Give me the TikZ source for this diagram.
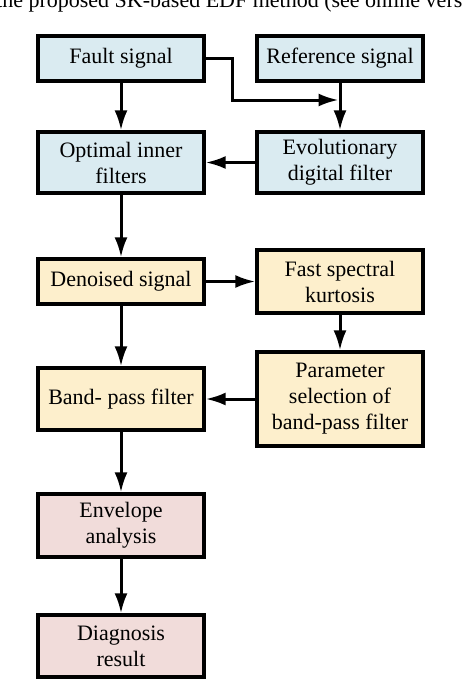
\documentclass[tikz,border=0pt]{standalone}
\usepackage{fontspec}
\setmainfont{Liberation Serif}
\newfontfamily\boxfont{Liberation Serif}
\usetikzlibrary{arrows.meta}

\definecolor{boxblue}{HTML}{DAEBF1}
\definecolor{boxyellow}{HTML}{FDEFCC}
\definecolor{boxpink}{HTML}{F1DCDA}

\begin{document}
\begin{tikzpicture}[x = 1pt, y = -1pt, > = {Latex[length = 20pt, width = 13pt]},
	block/.style = {draw, line width = 3.3pt, minimum width = 166pt, inner sep = 0pt,
		align = center, font = \boxfont\fontsize{22}{26}\selectfont},
	link/.style = {->, line width = 3pt}]

	\useasboundingbox (0, 0) rectangle (462, 680);

	\begin{scope}
		\clip (0, 0) rectangle (462, 680);
		\node [anchor = base west, inner sep = 0pt, font = \boxfont\fontsize{22}{26}\selectfont] (caption)
			at (-4, 8) {the proposed SK-based EDF method (see online version};
	\end{scope}

	% first stage
	\node [block, fill = boxblue, minimum height = 45pt] (fault) at (121, 58.5) {Fault signal};
	\node [block, fill = boxblue, minimum height = 45pt] (reference) at (340, 58.5) {Reference signal};
	\node [block, fill = boxblue, minimum height = 61pt] (optimal) at (121, 162.5) {Optimal inner\\ filters};
	\node [block, fill = boxblue, minimum height = 61pt] (evolutionary) at (340, 162.5) {Evolutionary\\ digital filter};

	% second stage
	\node [block, fill = boxyellow, minimum height = 45pt] (denoised) at (121, 281.5) {Denoised signal};
	\node [block, fill = boxyellow, minimum height = 63pt] (kurtosis) at (340, 281.5) {Fast spectral\\ kurtosis};
	\node [block, fill = boxyellow, minimum height = 62pt] (bandpass) at (121, 399) {Band- pass filter};
	\node [block, fill = boxyellow, minimum height = 94pt] (parameter) at (340, 399) {Parameter\\ selection of\\ band-pass filter};

	% third stage
	\node [block, fill = boxpink, minimum height = 63pt] (envelope) at (121, 525.5) {Envelope\\ analysis};
	\node [block, fill = boxpink, minimum height = 62pt] (diagnosis) at (121, 646) {Diagnosis\\ result};

	\coordinate (join) at (338.5, 100);

	\begin{scope}[link]
		\draw (fault) -- (optimal);
		\draw (fault.east) -- ++(27, 0) |- (join);
		\draw (reference) -- (evolutionary);
		\draw (evolutionary) -- (optimal);
		\draw (optimal) -- (denoised);
		\draw (denoised) -- (kurtosis.west |- denoised);
		\draw (kurtosis) -- (parameter);
		\draw (denoised) -- (bandpass);
		\draw (parameter) -- (bandpass);
		\draw (bandpass) -- (envelope);
		\draw (envelope) -- (diagnosis);
	\end{scope}

\end{tikzpicture}
\end{document}
